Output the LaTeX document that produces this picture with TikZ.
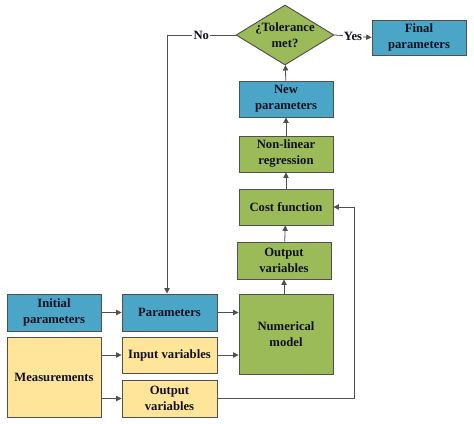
\documentclass[tikz,border=0pt]{standalone}
\usepackage{fontspec}
\setmainfont{Liberation Serif}
\usetikzlibrary{shapes.geometric,arrows.meta}
\definecolor{bblue}{HTML}{4BA5C6}
\definecolor{bgreen}{HTML}{9BBB59}
\definecolor{byellow}{HTML}{FFE599}
\definecolor{bline}{HTML}{505050}
\definecolor{btext}{HTML}{101020}
\begin{document}
\begin{tikzpicture}[x=0.75pt,y=-0.75pt,
  box/.style={draw=bline,line width=0.7pt,rectangle,minimum width=70.5pt,minimum height=27pt,
    inner sep=1pt,align=center,font=\fontsize{9.5}{12}\selectfont\bfseries,text=btext},
  bluebox/.style={box,fill=bblue},
  greenbox/.style={box,fill=bgreen},
  yellowbox/.style={box,fill=byellow},
  conn/.style={draw=bline,line width=0.6pt},
  arr/.style={conn,-{Triangle[length=4pt,width=4pt]}},
  lbl/.style={fill=white,inner sep=1pt,font=\fontsize{9.5}{11}\selectfont\bfseries,text=btext}
]
\useasboundingbox (0,0) rectangle (474,424);
\node[diamond,draw=bline,line width=0.7pt,fill=bgreen,aspect=1.63,inner sep=-2.5pt,
  minimum width=73.5pt,minimum height=45pt,
  align=center,font=\fontsize{9.5}{12}\selectfont\bfseries,text=btext] (tol) at (285,35) {¿Tolerance\\met?};
\node[bluebox,minimum height=26.25pt] (final) at (419,37.5) {Final\\parameters};
\node[bluebox] (newp) at (286,99) {New\\parameters};
\node[greenbox] (nonlin) at (286,154) {Non-linear\\regression};
\node[greenbox] (cost) at (286,207) {Cost function};
\node[greenbox,minimum height=27.75pt] (outg) at (284,260.5) {Output\\variables};
\node[greenbox,minimum height=60pt] (num) at (286,334) {Numerical\\model};
\node[bluebox,minimum height=27.75pt] (init) at (54,312.5) {Initial\\parameters};
\node[bluebox,minimum width=71.25pt,minimum height=27.75pt] (params) at (169.5,312.5) {Parameters};
\node[yellowbox,minimum height=60pt] (meas) at (54,377) {Measurements};
\node[yellowbox,minimum width=71.25pt] (inp) at (169.5,355) {Input variables};
\node[yellowbox,minimum width=71.25pt,minimum height=27.75pt] (outy) at (169.5,398.5) {Output\\variables};

\coordinate (fbr) at (354,398.5);
\coordinate (fbt) at (354,207);
\coordinate (nol) at (167,35);

\draw[arr] (newp) -- (tol);
\draw[arr] (nonlin) -- (newp);
\draw[arr] (cost) -- (nonlin);
\draw[arr] (outg) -- (cost);
\draw[arr] (num.north -| outg) -- (outg);
\draw[arr] (tol.east) -- node[lbl]{Yes} (final.west);
\draw[conn] (tol.west) -- node[lbl]{No} (nol);
\draw[arr] (nol) -- (nol |- params.north);
\draw[arr] (init) -- (params);
\draw[arr] (params.east) -- (params.east -| num.west);
\draw[arr] (inp.east) -- (inp.east -| num.west);
\draw[arr] (meas.east |- inp) -- (inp.west);
\draw[arr] (meas.east |- outy) -- (outy.west);
\draw[arr] (outy.east) -- (fbr) -- (fbt) -- (cost.east);
\end{tikzpicture}
\end{document}
